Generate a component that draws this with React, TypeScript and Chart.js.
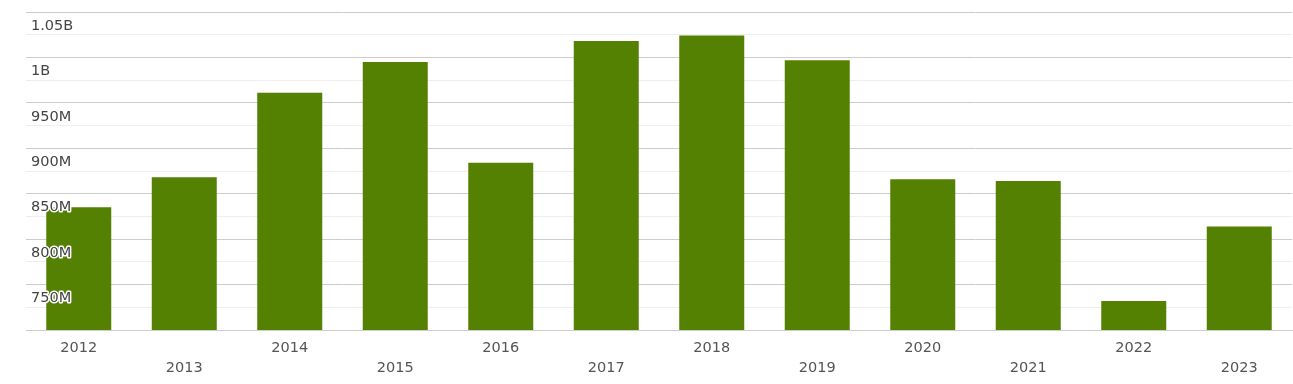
import React, { useEffect, useRef } from "react";
import { Chart, registerables } from "chart.js";

Chart.register(...registerables);

const years = ["2012", "2013", "2014", "2015", "2016", "2017", "2018", "2019", "2020", "2021", "2022", "2023"];
const values = [835e6, 868e6, 961e6, 995e6, 884e6, 1018e6, 1024e6, 997e6, 866e6, 864e6, 732e6, 814e6];
const yMin = 700e6;
const yMax = 1050e6;
const yStep = 25e6;

function formatValue(v: number): string {
  if (v >= 1e9) return (Math.round((v / 1e9) * 100) / 100).toString() + "B";
  return Math.round(v / 1e6).toString() + "M";
}

const yLabelPlugin = {
  id: "yLabelPlugin",
  afterDatasetsDraw(chart: any) {
    const { ctx, chartArea, scales } = chart;
    const y = scales.y;
    ctx.save();
    ctx.font = "14.5px 'DejaVu Sans'";
    ctx.textAlign = "left";
    ctx.textBaseline = "middle";
    ctx.lineJoin = "round";
    for (const t of y.ticks) {
      const v = t.value;
      if (v <= yMin) continue;
      if (Math.round(v / 1e6) % 50 !== 0) continue;
      const py = y.getPixelForValue(v);
      const label = formatValue(v);
      ctx.strokeStyle = "#ffffff";
      ctx.lineWidth = 3;
      ctx.strokeText(label, chartArea.left + 5, py + 14);
      ctx.fillStyle = "#444444";
      ctx.fillText(label, chartArea.left + 5, py + 14);
    }
    ctx.restore();
  },
};

export default function App() {
  const ref = useRef<HTMLCanvasElement | null>(null);
  useEffect(() => {
    if (!ref.current) return;
    const chart = new Chart(ref.current, {
      type: "bar",
      data: {
        labels: years,
        datasets: [
          {
            data: values,
            backgroundColor: "#548102",
            barPercentage: 0.616,
            categoryPercentage: 1,
          },
        ],
      },
      options: {
        animation: false,
        responsive: false,
        maintainAspectRatio: false,
        layout: { padding: { left: 26, right: 1, top: 12, bottom: 6 } },
        plugins: { legend: { display: false }, tooltip: { enabled: false } },
        scales: {
          x: {
            afterFit: (s: any) => {
              s.height = 48;
            },
            grid: { display: false, drawTicks: false },
            border: { display: true, color: "#cccccc", width: 1 },
            ticks: {
              padding: 8,
              autoSkip: false,
              maxRotation: 0,
              color: "#555555",
              font: { family: "'DejaVu Sans'", size: 14.5, lineHeight: 1.38 },
              callback: (_v: any, i: number) => (i % 2 === 0 ? years[i] : ["", years[i]]),
            },
          },
          y: {
            min: yMin,
            max: yMax,
            afterFit: (s: any) => {
              s.width = 0;
            },
            ticks: { display: false, stepSize: yStep },
            border: { display: false },
            grid: {
              drawTicks: false,
              color: (c: any) =>
                Math.round(c.tick.value / 1e6) % 50 === 0 ? "#cccccc" : "#eeeeee",
              lineWidth: 1,
            },
          },
        },
      },
      plugins: [yLabelPlugin],
    });
    return () => chart.destroy();
  }, []);
  return (
    <div style={{ position: "fixed", left: 0, top: 0, width: 1293, height: 384 }}>
      <canvas ref={ref} width={1293} height={384} style={{ width: 1293, height: 384 }} />
    </div>
  );
}
